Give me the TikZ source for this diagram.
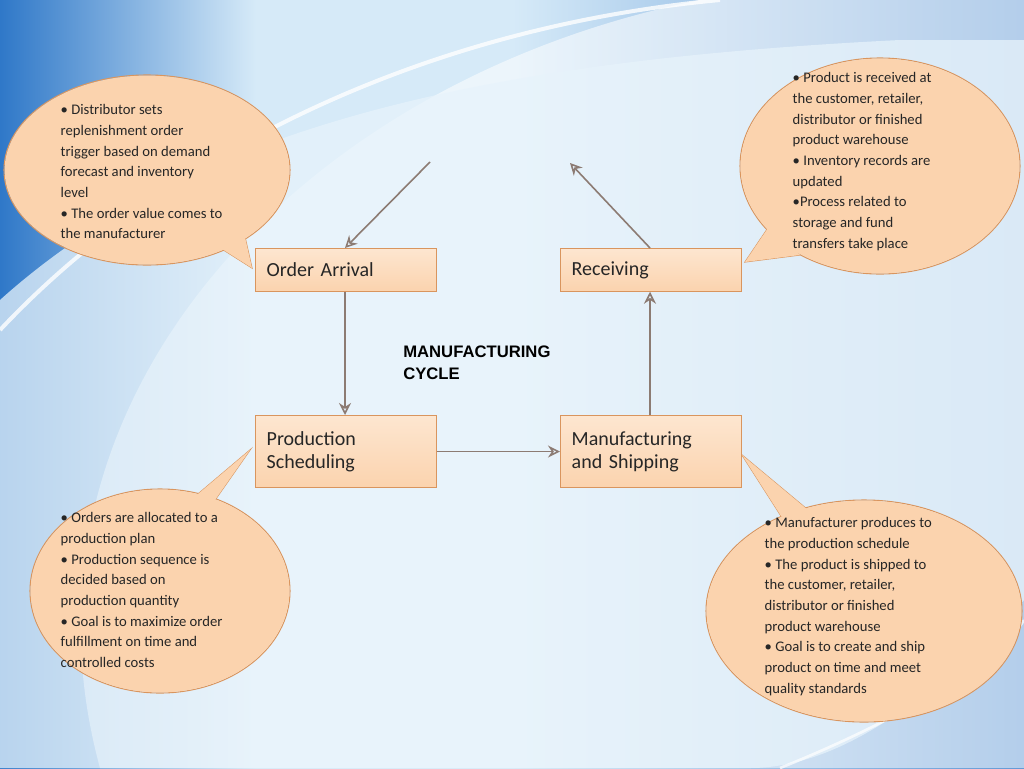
\documentclass[tikz,border=0pt]{standalone}
\usepackage{fontspec}
\setmainfont{Carlito}
\newfontfamily\hdfont{Liberation Sans}
\usetikzlibrary{shapes.geometric,arrows.meta}
\definecolor{peach}{HTML}{FBD3AE}
\definecolor{peachlt}{HTML}{FDE6D0}
\definecolor{edge}{HTML}{D9955E}
\definecolor{arr}{HTML}{8C7B73}
\definecolor{bgmid}{HTML}{D6EAF8}
\definecolor{bgdark}{HTML}{2F78C8}
\tikzset{
 box/.style={draw=edge,line width=0.8pt,top color=peachlt,bottom color=peach,minimum width=135.75pt,align=left,anchor=north west,inner sep=0pt,font=\fontsize{15}{17}\selectfont,text=black!85},
 conn/.style={draw=arr,line width=1.2pt,-{Stealth[open,length=9pt,width=9pt]}},
 ctext/.style={font=\fontsize{11}{15.5}\selectfont,align=left,text=black!85},
 cfill/.style={fill=peach},
 cline/.style={draw=edge,line width=0.8pt}
}
\begin{document}
\begin{tikzpicture}[x=0.75pt,y=-0.75pt]
\useasboundingbox (0,0) rectangle (1024,768);
% background
\shade[left color=bgdark,right color=bgmid,middle color=bgmid] (0,0) rectangle (512,768);
\shade[left color=bgmid,right color=bgdark!80] (512,0) rectangle (1024,768);
\fill[white,opacity=0.55] (100,768) .. controls (0,400) and (300,80) .. (700,0) -- (1024,0) -- (1024,768) -- cycle;
\fill[bgmid!60!white,opacity=0.75] (0,300) .. controls (200,120) and (500,60) .. (900,40) -- (1024,40) -- (1024,600) .. controls (950,680) and (850,768) .. (750,768) -- (0,768) -- cycle;
\draw[white,line width=3pt,opacity=0.8] (0,330) .. controls (150,170) and (400,30) .. (720,0);
\draw[white,line width=2pt,opacity=0.7] (780,768) .. controls (900,720) and (1000,660) .. (1024,620);
% callouts
\foreach \cx/\cy/\rx/\ry/\ax/\ay/\bx/\by/\tx/\ty in {147/170/143/95/200/235/240/215/252/268, 880/166/140/108/770/225/800/255/745/262, 160/591/130/102/185/505/215/500/250/450, 864/611/158/111/790/530/820/520/742/455}{
 \draw[cline] (\cx,\cy) ellipse [x radius=\rx,y radius=\ry];
 \draw[cline] (\ax,\ay) -- (\tx,\ty) -- (\bx,\by);
 \fill[cfill] (\cx,\cy) ellipse [x radius=\rx-0.6,y radius=\ry-0.6];
 \fill[cfill] (\ax,\ay) -- (\tx,\ty) -- (\bx,\by) -- cycle;
}
\node[ctext,anchor=north west] (t1) at (56,100) {• Distributor sets\\replenishment order\\trigger based on demand\\forecast and inventory\\level\\• The order value comes to\\the manufacturer};
\node[ctext,anchor=north west] (t2) at (788,68) {• Product is received at\\the customer, retailer,\\distributor or finished\\product warehouse\\• Inventory records are\\updated\\•Process related to\\storage and fund\\transfers take place};
\node[ctext,anchor=north west] (t3) at (56,508) {• Orders are allocated to a\\production plan\\• Production sequence is\\decided based on\\production quantity\\• Goal is to maximize order\\fulfillment on time and\\controlled costs};
\node[ctext,anchor=north west] (t4) at (760,513) {• Manufacturer produces to\\the production schedule\\• The product is shipped to\\the customer, retailer,\\distributor or finished\\product warehouse\\• Goal is to create and ship\\product on time and meet\\quality standards};
% boxes
\node[box,minimum height=32pt,text width=125pt] (oa) at (255,248) {\hspace*{3pt}Order Arrival};
\node[box,minimum height=32pt,text width=125pt] (rc) at (560,248) {\hspace*{3pt}Receiving};
\node[box,minimum height=54pt,text width=125pt] (ps) at (255,415) {\hspace*{3pt}Production\\\hspace*{3pt}Scheduling};
\node[box,minimum height=54pt,text width=125pt] (ms) at (560,415) {\hspace*{3pt}Manufacturing\\\hspace*{3pt}and Shipping};
\node[font=\hdfont\bfseries\fontsize{12.5}{16}\selectfont,align=left,anchor=north west,inner sep=0pt] (title) at (403,346) {MANUFACTURING\\CYCLE};
% connectors
\coordinate (in) at (430,162);
\coordinate (out) at (570,163);
\draw[conn] (in) -- (oa.north -| 345,0);
\draw[conn] (oa.south -| 345,0) -- (ps.north -| 345,0);
\draw[conn] (ps.east) -- (ms.west);
\draw[conn] (ms.north -| 650,0) -- (rc.south -| 650,0);
\draw[conn] (rc.north -| 650,0) -- (out);
\end{tikzpicture}
\end{document}
